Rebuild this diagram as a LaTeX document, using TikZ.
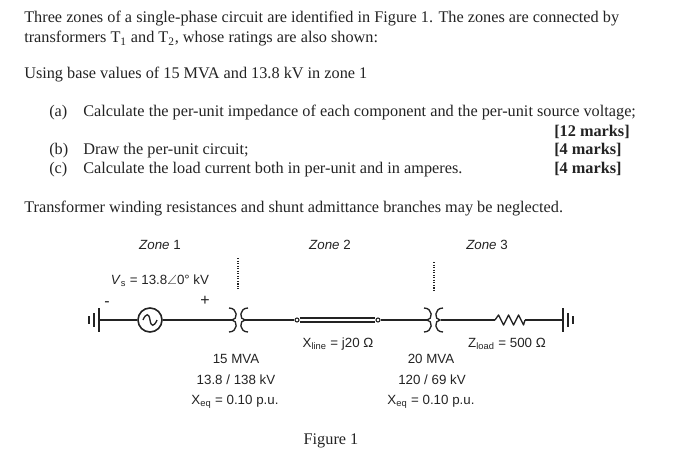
\documentclass[tikz,border=0pt]{standalone}
\usepackage{amssymb, amsmath}
\usepackage{fontspec}
\setmainfont{Liberation Serif}
\setsansfont{Liberation Sans}
\definecolor{ink}{RGB}{35, 35, 35}

\begin{document}
\begin{tikzpicture}[
   x=0.75pt, y=-0.75pt,
   para/.style={anchor=base west, inner sep=0, text=ink, font=\fontsize{12.2}{14}\selectfont},
   marks/.style={para, font=\fontsize{12.2}{14}\selectfont\bfseries},
   lab/.style={anchor=base, inner sep=0, text=ink, font=\sffamily\fontsize{10}{12}\selectfont},
   wire/.style={draw=ink, line width=1},
   srccirc/.style={circle, draw=ink, fill=white, line width=1.2, minimum size=18, inner sep=0},
   endcirc/.style={circle, draw=ink, fill=white, line width=0.8, minimum size=3, inner sep=0}
  ]
  \useasboundingbox (0, 0) rectangle (685, 449);

  % Question text
  \node (L1) at (24, 23) [para] {Three zones of a single-phase circuit are identified in Figure 1. The zones are connected by};
  \node (L2) at (24, 43) [para] {transformers T\textsubscript{1} and T\textsubscript{2}, whose ratings are also shown:};
  \node (L3) at (24, 79) [para] {Using base values of 15 MVA and 13.8 kV in zone 1};
  \node (Pa) at (49, 117) [para] {(a)};
  \node (Qa) at (83, 117) [para] {Calculate the per-unit impedance of each component and the per-unit source voltage;};
  \node (Ma) at (554, 137) [marks] {[12 marks]};
  \node (Pb) at (49, 155) [para] {(b)};
  \node (Qb) at (83, 155) [para] {Draw the per-unit circuit;};
  \node (Mb) at (554, 155) [marks] {[4 marks]};
  \node (Pc) at (49, 174) [para] {(c)};
  \node (Qc) at (83, 174) [para] {Calculate the load current both in per-unit and in amperes.};
  \node (Mc) at (554, 174) [marks] {[4 marks]};
  \node (L4) at (24, 212) [para] {Transformer winding resistances and shunt admittance branches may be neglected.};

  % Zones
  \node (Z1) at (160, 249) [lab] {\textit{Zone} 1};
  \node (Z2) at (330, 249) [lab] {\textit{Zone} 2};
  \node (Z3) at (487, 249) [lab] {\textit{Zone} 3};

  \draw[ink, line width=0.9, densely dotted] (238, 258) -- (238, 289);
  \draw[ink, line width=0.9, densely dotted] (434, 262) -- (434, 292);

  % Main line
  \pgfmathsetmacro{\yl}{320}
  \node (G) at (150, \yl) [srccirc] {};
  \draw[ink, line width=1] (143, \yl) .. controls (146, 313) and (149, 313) .. (150, \yl)
                              .. controls (151, 327) and (154, 327) .. (157, \yl);

  \coordinate (EL) at (99, \yl);
  \coordinate (ER) at (563, \yl);
  \coordinate (T1a) at (232, \yl);
  \coordinate (T1b) at (245, \yl);
  \coordinate (T2a) at (427, \yl);
  \coordinate (T2b) at (441, \yl);
  \coordinate (Ra) at (495, \yl);
  \coordinate (Rb) at (525, \yl);
  \node (La) at (297, \yl) [endcirc] {};
  \node (Lb) at (378, \yl) [endcirc] {};

  \foreach \B/\E in {EL/G, G/T1a, T1b/La, Lb/T2a, T2b/Ra, Rb/ER} {
    \draw[wire] (\B) -- (\E);
  }

  % Line
  \draw[wire] ([yshift=-1.5]La.east) -- ([yshift=-1.5]Lb.west);
  \draw[wire] ([yshift=1.5]La.east) -- ([yshift=1.5]Lb.west);

  % Transformers
  \foreach \T in {T1a, T2a} {
    \begin{scope}[shift={(\T)}]
      \draw[wire] (-3, -12) .. controls (6, -12) and (6, 0) .. (0, 0)
                  .. controls (6, 0) and (6, 12) .. (-3, 12);
      \draw[wire] (16, -12) .. controls (7, -12) and (7, 0) .. (13, 0)
                  .. controls (7, 0) and (7, 12) .. (16, 12);
    \end{scope}
  }

  % Load
  \draw[wire, line join=round] (Ra) -- ++(3.5, -5) -- ++(5, 10) -- ++(5, -10) -- ++(5, 10)
       -- ++(5, -10) -- ++(5, 10) -- (Rb);

  % Grounds
  \draw[wire] (99, 308) -- (99, 332);
  \draw[wire] (94, 313) -- (94, 327);
  \draw[wire] (89, 316) -- (89, 324);
  \draw[wire] (563, 308) -- (563, 332);
  \draw[wire] (568, 313) -- (568, 327);
  \draw[wire] (573, 316) -- (573, 324);

  % Labels
  \node (Vs) at (160, 284) [lab] {\textit{V}\textsubscript{s} = 13.8$\angle$0\textdegree{} kV};
  \node (Mi) at (107, 306) [lab, font=\sffamily\fontsize{12}{12}\selectfont] {-};
  \node (Pl) at (205, 305) [lab, font=\sffamily\fontsize{12}{12}\selectfont] {+};
  \node (Xl) at (338, 347) [lab] {X\textsubscript{line} = j20 Ω};
  \node (Zl) at (507, 347) [lab] {Z\textsubscript{load} = 500 Ω};
  \node (S1) at (236, 363) [lab] {15 MVA};
  \node (V1) at (236, 384) [lab] {13.8 / 138 kV};
  \node (X1) at (235, 404) [lab] {X\textsubscript{eq} = 0.10 p.u.};
  \node (S2) at (431, 363) [lab] {20 MVA};
  \node (V2) at (432, 384) [lab] {120 / 69 kV};
  \node (X2) at (431, 404) [lab] {X\textsubscript{eq} = 0.10 p.u.};

  \node (F1) at (331, 444) [para, anchor=base] {Figure 1};

\end{tikzpicture}
\end{document}
